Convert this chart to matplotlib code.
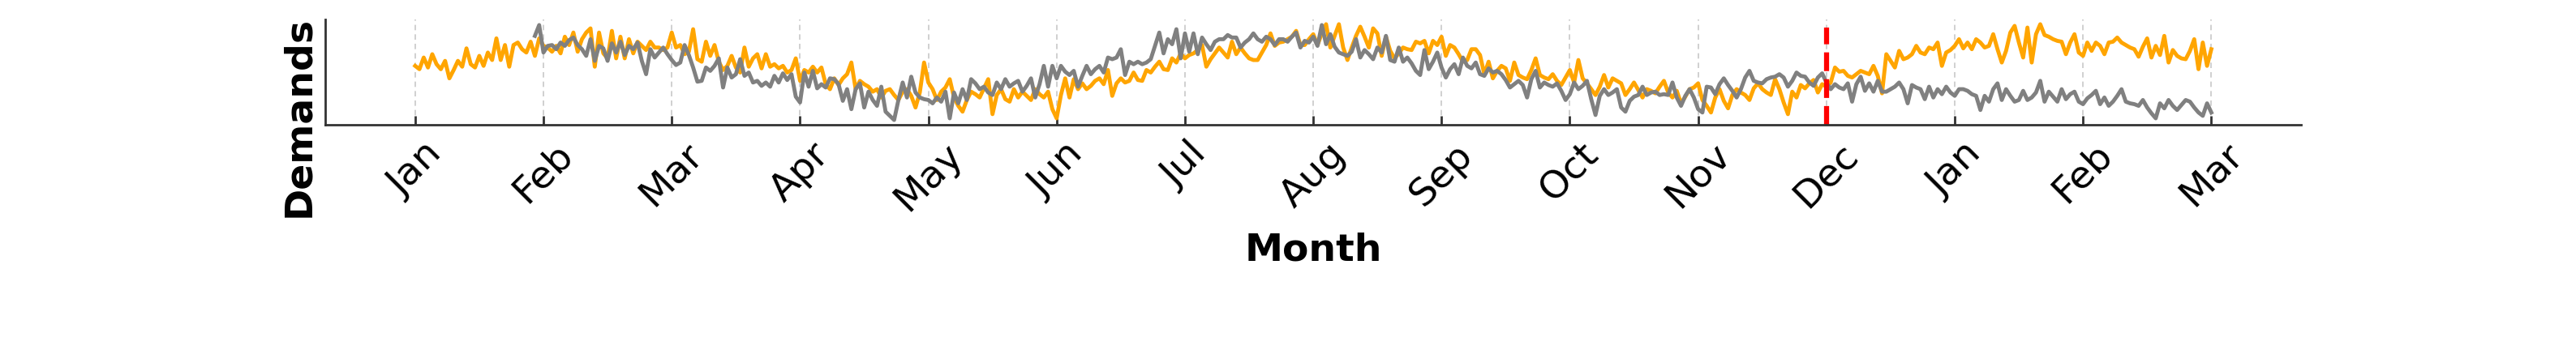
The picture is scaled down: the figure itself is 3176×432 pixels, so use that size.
import numpy as np
import matplotlib
matplotlib.use("agg")
import matplotlib.pyplot as plt

# x tick labels, one every 30 days starting at day 0
months = ['Jan', 'Feb', 'Mar', 'Apr', 'May', 'Jun', 'Jul', 'Aug', 'Sep',
          'Oct', 'Nov', 'Dec', 'Jan', 'Feb', 'Mar']

# daily demand, orange series (day 0 .. 420)
orange_demand = [
    72, 68, 82, 70, 86, 74, 68, 78, 57, 67,
    78, 71, 93, 74, 70, 84, 72, 88, 79, 105,
    79, 97, 71, 97, 100, 92, 88, 101, 84, 105,
    96, 94, 89, 96, 87, 107, 97, 112, 89, 104,
    112, 117, 71, 112, 87, 81, 114, 81, 107, 81,
    104, 87, 101, 96, 91, 101, 94, 94, 91, 94,
    112, 94, 97, 86, 89, 116, 80, 77, 101, 84,
    97, 77, 67, 72, 84, 70, 64, 94, 71, 81,
    86, 69, 86, 71, 74, 69, 72, 64, 67, 81,
    54, 67, 64, 71, 64, 70, 50, 44, 57, 49,
    57, 62, 76, 44, 54, 50, 47, 41, 44, 34,
    42, 44, 37, 31, 41, 44, 36, 22, 40, 76,
    52, 44, 31, 41, 46, 56, 34, 24, 17, 31,
    41, 38, 34, 45, 56, 14, 37, 44, 32, 29,
    44, 34, 41, 36, 31, 44, 38, 34, 41, 20,
    9, 37, 57, 34, 56, 44, 51, 44, 48, 54,
    57, 50, 67, 36, 51, 57, 52, 54, 64, 55,
    54, 67, 64, 71, 77, 68, 67, 81, 76, 87,
    81, 85, 87, 91, 97, 71, 80, 87, 94, 88,
    82, 101, 86, 94, 87, 81, 79, 79, 88, 97,
    111, 96, 100, 101, 104, 107, 114, 97, 97, 104,
    110, 97, 111, 122, 94, 108, 122, 94, 79, 94,
    108, 119, 107, 94, 117, 111, 84, 107, 90, 81,
    87, 94, 92, 91, 101, 99, 102, 87, 102, 97,
    107, 84, 97, 94, 86, 77, 79, 92, 92, 85,
    62, 77, 57, 66, 72, 69, 54, 76, 61, 58,
    56, 67, 81, 61, 58, 56, 62, 54, 49, 58,
    67, 52, 79, 57, 51, 44, 37, 47, 61, 46,
    57, 54, 51, 37, 44, 52, 43, 34, 44, 42,
    39, 47, 54, 40, 34, 42, 27, 35, 44, 46,
    51, 31, 24, 16, 34, 44, 30, 21, 37, 44,
    40, 37, 31, 45, 51, 44, 40, 37, 56, 44,
    28, 14, 41, 34, 49, 45, 51, 55, 40, 50,
    47, 52, 70, 65, 66, 60, 58, 62, 66, 64,
    62, 72, 60, 39, 86, 78, 70, 90, 80, 82,
    86, 96, 88, 86, 94, 92, 100, 72, 88, 91,
    96, 104, 93, 100, 92, 104, 100, 94, 96, 110,
    92, 76, 90, 112, 120, 100, 82, 118, 76, 110,
    122, 109, 107, 104, 102, 101, 86, 100, 110, 88,
    84, 100, 90, 100, 96, 86, 100, 101, 106, 100,
    97, 94, 92, 83, 95, 105, 82, 96, 85, 108,
    76, 91, 84, 81, 80, 90, 104, 68, 100, 72,
    92,
]

# daily demand, gray series (starts on day 28)
gray_start = 28
gray_demand = [
    108, 121,
    88, 96, 97, 92, 100, 96, 103, 106, 97, 92,
    84, 104, 78, 96, 93, 78, 99, 88, 101, 85,
    96, 92, 100, 78, 62, 92, 82, 88, 94, 86,
    79, 73, 76, 97, 85, 70, 53, 54, 70, 66,
    72, 81, 46, 70, 58, 62, 80, 60, 64, 52,
    54, 48, 52, 47, 60, 52, 63, 55, 62, 35,
    28, 64, 47, 66, 45, 50, 46, 57, 56, 50,
    30, 44, 20, 44, 51, 22, 41, 31, 24, 47,
    17, 12, 7, 31, 52, 34, 59, 40, 34, 32,
    31, 27, 34, 29, 41, 9, 40, 27, 44, 31,
    56, 51, 44, 47, 40, 37, 52, 44, 56, 47,
    51, 54, 41, 48, 57, 34, 50, 72, 47, 72,
    57, 72, 65, 61, 66, 47, 60, 72, 62, 68,
    72, 64, 82, 80, 82, 92, 61, 77, 74, 77,
    74, 76, 80, 96, 112, 87, 104, 98, 116, 81,
    111, 89, 111, 86, 106, 98, 91, 101, 104, 104,
    109, 106, 106, 94, 100, 104, 111, 104, 101, 107,
    104, 97, 104, 104, 101, 107, 112, 94, 102, 100,
    107, 96, 121, 98, 110, 95, 88, 86, 84, 89,
    104, 82, 91, 86, 80, 94, 88, 108, 79, 77,
    94, 77, 82, 75, 66, 61, 91, 68, 77, 88,
    70, 58, 68, 74, 62, 82, 72, 69, 76, 62,
    60, 69, 64, 66, 62, 55, 46, 50, 54, 49,
    34, 56, 66, 46, 52, 49, 47, 51, 42, 31,
    38, 52, 44, 48, 54, 32, 13, 36, 44, 37,
    40, 44, 22, 17, 30, 35, 37, 47, 37, 40,
    41, 37, 38, 37, 52, 34, 24, 36, 44, 34,
    20, 16, 47, 46, 38, 50, 57, 49, 42, 34,
    44, 58, 66, 54, 52, 51, 56, 58, 59, 62,
    58, 47, 54, 64, 60, 59, 52, 48, 58, 63,
    52, 44, 50, 46, 44, 51, 29, 50, 59, 42,
    51, 41, 54, 41, 41, 44, 47, 52, 44, 27,
    49, 46, 44, 32, 47, 34, 44, 38, 47, 40,
    36, 44, 44, 42, 38, 36, 19, 36, 29, 44,
    51, 31, 44, 36, 29, 31, 42, 31, 34, 40,
    54, 29, 41, 35, 29, 44, 32, 38, 41, 29,
    26, 33, 37, 42, 26, 34, 24, 29, 36, 44,
    29, 27, 26, 24, 31, 22, 15, 9, 27, 21,
    31, 24, 19, 25, 31, 29, 22, 16, 12, 27,
    16,
]

split_day = 330  # red dashed marker (Dec)

x_orange = np.arange(len(orange_demand))
x_gray = np.arange(gray_start, gray_start + len(gray_demand))

fig = plt.figure(figsize=(31.76, 4.32), dpi=100)
ax = fig.add_axes([0.1263, 0.6435, 0.767, 0.301])

ax.plot(x_orange, orange_demand, color='orange', linewidth=3.5)
ax.plot(x_gray, gray_demand, color='gray', linewidth=3.5)
ax.axvline(split_day, ymax=0.92, color='red', linestyle='--', linewidth=4.5)

ax.set_xticks(np.arange(0, 30 * len(months), 30))
ax.set_xticklabels(months, rotation=45, fontsize=34)
ax.set_yticks([])
ax.grid(axis='x', linestyle=(0, (4, 3)), color='#c8c8c8', linewidth=1.2)

ax.spines['top'].set_visible(False)
ax.spines['right'].set_visible(False)
for s in ['left', 'bottom']:
    ax.spines[s].set_linewidth(2)
    ax.spines[s].set_color('#333333')
ax.tick_params(axis='x', direction='in', length=8, width=2, color='#333333', pad=10)

ax.set_xlabel('Month', fontsize=34, fontweight='bold', labelpad=13)
ax.set_ylabel('Demands', fontsize=34, fontweight='bold')
# the y label sits low, next to the bottom of the axes
ax.yaxis.set_label_coords(-0.004, 0.077)

fig.savefig('out.png', dpi=100)
